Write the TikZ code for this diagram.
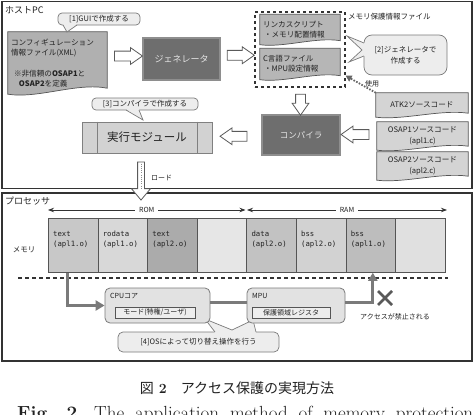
\documentclass[tikz,border=0pt]{standalone}
\usepackage{fontspec}
\newfontfamily\jp{Noto Sans CJK JP}
\newfontfamily\cellmono{DejaVu Sans Mono}
\usetikzlibrary{shapes.arrows,arrows.meta,calc}
\pgfdeclarelayer{back}
\pgfdeclarelayer{bg}
\pgfsetlayers{back,bg,main}
\definecolor{frame}{HTML}{333333}
\definecolor{txt}{HTML}{222222}
\definecolor{darkface}{HTML}{6E6E6E}
\definecolor{darkedge}{HTML}{3A3A3A}
\definecolor{bevel}{HTML}{8E8E8E}
\definecolor{docdark}{HTML}{B0B0B0}
\definecolor{docmid}{HTML}{B6B6B6}
\definecolor{doclight}{HTML}{D4D4D4}
\definecolor{docedge}{HTML}{555555}
\definecolor{callfill}{HTML}{EDEDED}
\definecolor{calledge}{HTML}{7A7A7A}
\definecolor{arredge}{HTML}{5A5A5A}
\definecolor{conngray}{HTML}{7A7A7A}
\definecolor{boxfill}{HTML}{E2E2E2}
\definecolor{exefill}{HTML}{D2D2D2}
\definecolor{cellA}{HTML}{C8C8C8}
\definecolor{cellB}{HTML}{D8D8D8}
\definecolor{cellC}{HTML}{ABABAB}
\definecolor{cellD}{HTML}{E6E6E6}
\definecolor{cellE}{HTML}{C2C2C2}
\definecolor{cellF}{HTML}{D2D2D2}
\definecolor{cellG}{HTML}{BDBDBD}
\definecolor{cellH}{HTML}{E0E0E0}
\newcommand\fsz[1]{\fontsize{#1}{#1}\selectfont}
\newcommand\fszb[2]{\fontsize{#1}{#2}\selectfont}
\newcommand\drawdoc[3]{%
  \draw[docedge,line width=0.7pt,fill=#2] (#1.north west) -- (#1.north east) -- ([yshift=#3]#1.south east)
  .. controls ($(#1.south west)!0.7!(#1.south east)+(0pt,2*#3)$) and ($(#1.south west)!0.3!(#1.south east)+(0pt,-0.8*#3)$) .. (#1.south west) -- cycle;}
\begin{document}
\begin{tikzpicture}[x=1pt,y=-1pt,
  hframe/.style={draw=frame,line width=1.7pt},
  jpt/.style={font=\jp\fsz{7.5},inner sep=0,text=txt},
  docn/.style={inner xsep=3pt,inner ysep=0pt,font=\jp\fszb{7.6}{10.2},align=left,text=txt},
  srcn/.style={inner sep=0pt,font=\jp\fszb{7.6}{11.5},align=center,text=txt},
  darkbox/.style={draw=darkedge,line width=0.5pt,double=bevel,double distance=1.6pt,fill=darkface,text=white!90!black,font=\jp\fsz{9},inner sep=0},
  callout/.style={draw=calledge,fill=callfill,line width=0.7pt,rounded corners=4pt,font=\jp\fsz{7.5},text=txt,inner sep=0,align=center},
  tailfill/.style={fill=callfill},
  tailline/.style={draw=calledge,line width=0.7pt},
  harrow/.style={single arrow,draw=arredge,fill=white,line width=0.8pt,inner xsep=0pt,inner ysep=4.5pt,single arrow head extend=3.5pt,single arrow head indent=0pt,single arrow tip angle=70,minimum width=0pt},
  cell/.style={draw=docedge,line width=0.8pt,anchor=north west,minimum width=49.6pt,minimum height=54pt,inner sep=0},
  celltext/.style={anchor=north west,font=\cellmono\fszb{7.3}{10},align=left,inner sep=0,text=txt},
  rbox/.style={draw=calledge,fill=boxfill,line width=0.8pt,rounded corners=5pt,inner sep=0},
  ibox/.style={draw=docedge,fill=white!93!black,line width=0.7pt,inner sep=0,font=\jp\fsz{7},text=txt},
  thickconn/.style={draw=conngray,line width=3pt},
  dotarr/.style={draw=black!60,line width=1.8pt,dash pattern=on 1.6pt off 1.4pt,-{Triangle[length=6pt,width=6.5pt]}},
  dimarr/.style={draw=frame,line width=0.8pt,{Stealth[length=6pt,width=4.5pt]}-{Stealth[length=6pt,width=4.5pt]}},
  dimlab/.style={fill=white,font=\jp\fsz{7},inner xsep=4pt,inner ysep=1pt,text=txt}
]
\useasboundingbox (0,0) rectangle (474,415);
\begin{pgfonlayer}{back}
  \fill[white] (0,0) rectangle (474,415);
\end{pgfonlayer}
% frames
\draw[hframe] (2,1.5) rectangle (472,188.5);
\draw[hframe] (2,193) rectangle (472,361);
\node[jpt,font=\jp\fsz{9},anchor=west] (hostl) at (5,10) {ホストPC};
\node[jpt,font=\jp\fsz{9},anchor=west] (procl) at (5,201) {プロセッサ};

% configuration file
\node[docn,text width=93pt,minimum height=62pt] (conf) at (57.5,63) {コンフィギュレーション\\情報ファイル(XML)\\\mbox{}\\\hspace*{3pt}※非信頼の\textbf{OSAP1}と\\\hspace*{8pt}\textbf{OSAP2}を定義};
% generator / compiler
\node[darkbox,minimum width=77pt,minimum height=42pt] (gen) at (181.5,59) {ジェネレータ};
\node[darkbox,font=\jp\fsz{8.5},minimum width=78pt,minimum height=40pt] (cmp) at (301,135) {コンパイラ};
% memory protection files
\node[draw=frame,dashed,line width=1.3pt,minimum width=90pt,minimum height=75pt,inner sep=0] (mp) at (300,49.5) {};
\node[jpt,anchor=west] (mplab) at (348,17) {メモリ保護情報ファイル};
\node[docn,text width=74pt,minimum height=30pt] (lnk) at (300,29.5) {リンカスクリプト\\\hspace*{1pt}・メモリ配置情報};
\node[docn,text width=74pt,minimum height=31pt] (cdoc) at (300,64) {C言語ファイル\\\hspace*{1pt}・MPU設定情報};
% source files
\node[srcn,minimum width=92pt,minimum height=24pt] (atk) at (422,105) {ATK2ソースコード};
\node[srcn,minimum width=91pt,minimum height=28pt] (os1) at (422.5,136) {OSAP1ソースコード\\(apl1.c)};
\node[srcn,minimum width=91pt,minimum height=28pt] (os2) at (422.5,166) {OSAP2ソースコード\\(apl2.c)};
\begin{pgfonlayer}{bg}
  \drawdoc{conf}{docdark}{6pt}
  \drawdoc{lnk}{docmid}{4pt}
  \drawdoc{cdoc}{docmid}{4pt}
  \drawdoc{atk}{doclight}{4pt}
  \drawdoc{os1}{doclight}{4pt}
  \drawdoc{os2}{doclight}{4pt}
\end{pgfonlayer}
% executable module
\node[draw=black!50,fill=exefill,line width=0.8pt,minimum width=130pt,minimum height=31pt,inner sep=0,font=\jp\fsz{11.5},text=txt] (exe) at (147,137.5) {実行モジュール};
\draw[black!50,line width=0.8pt] ([xshift=16pt]exe.north west) -- ([xshift=16pt]exe.south west);
\draw[black!50,line width=0.8pt] ([xshift=-15pt]exe.north east) -- ([xshift=-15pt]exe.south east);

% callouts
\node[callout,minimum width=82pt,minimum height=12pt] (c1) at (99,19) {[1]GUIで作成する};
\fill[tailfill] (63,24) -- (67,32) -- (77,24) -- cycle;
\draw[tailline] (63,25) -- (67,32) -- (77,25);
\node[callout,minimum width=106pt,minimum height=12pt] (c3) at (145,104) {[3]コンパイラで作成する};
\fill[tailfill] (126,109) -- (143,120) -- (139,109) -- cycle;
\draw[tailline] (126,110) -- (143,120) -- (139,110);
\node[callout,rounded corners=8pt,minimum width=83pt,minimum height=40pt,font=\jp\fszb{7.5}{11}] (c2) at (405.5,55) {[2]ジェネレータで\\作成する};
\fill[tailfill] (365,43) -- (347,36) -- (362,50) -- (349,62) -- (365,56) -- cycle;
\draw[tailline] (364,43) -- (347,36) -- (362,50) -- (349,62) -- (364,56);
\node[callout,rounded corners=5pt,minimum width=161pt,minimum height=20pt] (c4) at (198.5,342) {[4]OSによって切り替え操作を行う};
\fill[tailfill] (215,333) -- (205,319) -- (232,330) -- (253,320) -- (256,333) -- cycle;
\draw[tailline] (215,332) -- (205,319) -- (232,330) -- (253,320) -- (256,332);

% hollow arrows
\node[harrow,minimum height=28pt] (a1) at ($(conf.east)!0.5!(gen.west)+(0pt,5pt)$) {};
\node[harrow,minimum height=27pt] (a2) at ($(gen.east)!0.5!(mp.west)+(0pt,-1pt)$) {};
\node[harrow,minimum height=21pt,rotate=-90] (a3) at ($(mp.south)!0.5!(cmp.north)$) {};
\node[harrow,minimum height=28pt,rotate=180] (a4) at ($(cmp.east)!0.5!(os1.west)+(0pt,1pt)$) {};
\node[harrow,minimum height=27pt,rotate=180] (a5) at ($(exe.east)!0.5!(cmp.west)$) {};
\node[harrow,minimum height=38pt,rotate=-90,inner ysep=3pt,single arrow head extend=6pt,single arrow tip angle=80] (a6) at (141,179) {};
\draw[black!45,line width=0.9pt,dash pattern=on 1pt off 1.2pt] ($(a6.tail)!0.05!(a6.tip)$) -- ($(a6.tail)!0.68!(a6.tip)$);
\node[jpt,font=\jp\fsz{7},anchor=west] (load) at (151,178) {ロード};

% dotted "use" arrow
\draw[dotarr] (atk.north west) -- ([yshift=12pt]mp.south east);
\node[jpt,font=\jp\fsz{7}] (use) at (372,84) {使用};

% ROM / RAM
\coordinate (romL) at (48,210);
\coordinate (romR) at (245.5,210);
\coordinate (ramL) at (247,210);
\coordinate (ramR) at (447,210);
\draw[dimarr] (romL) -- node[dimlab] (roml) {ROM} (romR);
\draw[dimarr] (ramL) -- node[dimlab] (raml) {RAM} (ramR);

% memory cells
\node[cell,fill=cellA] (m1) at (48,218) {};
\node[cell,fill=cellB] (m2) at (97.6,218) {};
\node[cell,fill=cellC] (m3) at (147.2,218) {};
\node[cell,fill=cellD] (m4) at (196.8,218) {};
\node[cell,fill=cellE] (m5) at (246.4,218) {};
\node[cell,fill=cellF] (m6) at (296,218) {};
\node[cell,fill=cellG] (m7) at (345.6,218) {};
\node[cell,fill=cellH] (m8) at (395.2,218) {};
\node[celltext] (t1) at ([xshift=5pt,yshift=-13pt]m1.north west) {text\\(apl1.o)};
\node[celltext] (t2) at ([xshift=5pt,yshift=-13pt]m2.north west) {rodata\\(apl1.o)};
\node[celltext] (t3) at ([xshift=5pt,yshift=-13pt]m3.north west) {text\\(apl2.o)};
\node[celltext] (t5) at ([xshift=5pt,yshift=-13pt]m5.north west) {data\\(apl2.o)};
\node[celltext] (t6) at ([xshift=5pt,yshift=-13pt]m6.north west) {bss\\(apl2.o)};
\node[celltext] (t7) at ([xshift=5pt,yshift=-13pt]m7.north west) {bss\\(apl1.o)};
\node[jpt,font=\jp\fsz{7.5}] (meml) at (24,250) {メモリ};
\coordinate (dl) at (18,278);
\coordinate (dr) at (448,278);
\draw[frame,line width=1.2pt,dash pattern=on 4pt off 3pt] (dl) -- (dr);

% CPU core and MPU
\node[rbox,minimum width=105pt,minimum height=35pt] (cpu) at (157.5,305.5) {};
\node[jpt,font=\jp\fsz{7},anchor=west] (cpul) at (110,296) {CPUコア};
\node[ibox,minimum width=80pt,minimum height=11pt] (mode) at (155,312.5) {モード(特権/ユーザ)};
\node[rbox,minimum width=98pt,minimum height=35pt] (mpu) at (296,305.5) {};
\node[jpt,font=\jp\fsz{7},anchor=west] (mpul) at (252,296) {MPU};
\node[ibox,minimum width=78pt,minimum height=11pt] (reg) at (291,312.5) {保護領域レジスタ};

% thick connectors
\draw[thickconn,-{Triangle[length=9pt,width=10pt]}] ([xshift=-6pt]m1.south) |- (cpu.west);
\draw[thickconn] ([yshift=3pt]cpu.east) -- ([yshift=3pt]mpu.west);
\draw[thickconn,-{Triangle[length=8pt,width=9pt]}] ([yshift=3pt]mpu.east) -| ([xshift=2pt]m7.south);

% access denied
\draw[black!65,line width=2.8pt] (378,291) -- (392,305) (378,305) -- (392,291);
\node[jpt,font=\jp\fsz{7}] (deny) at (395,317) {アクセスが禁止される};

% caption
\node[inner sep=0,font=\jp\fsz{14},text=txt] (cap) at (237,388) {図\hspace{5pt}{\rmfamily\bfseries 2}\hspace{14pt}アクセス保護の実現方法};
\begin{scope}
  \clip (0,0) rectangle (474,415);
  \node[anchor=base west,inner sep=0,font=\fsz{19},text=txt] (figen) at (17,419) {\makebox[456pt][s]{\textbf{Fig.~2}\hspace{6pt} The application method of memory protection}};
\end{scope}
\end{tikzpicture}
\end{document}
